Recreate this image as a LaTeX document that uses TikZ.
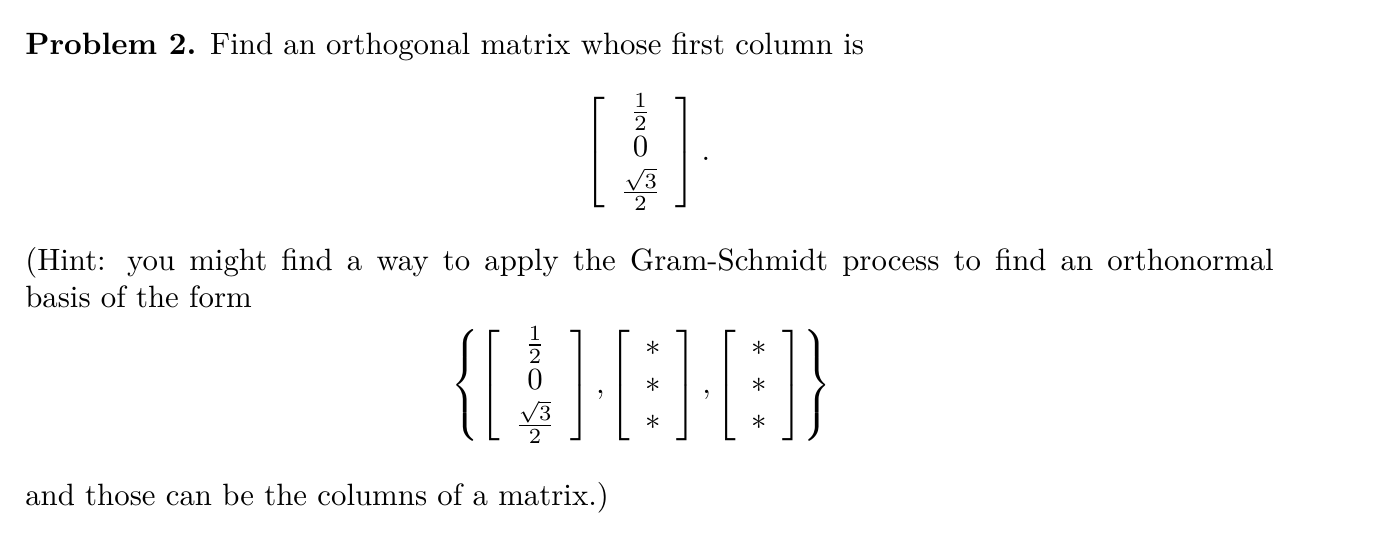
\documentclass[tikz,border=0pt]{standalone}
\usepackage{amsmath}
\begin{document}
\begin{tikzpicture}[x=1pt,y=1pt,txt/.style={inner sep=0pt,anchor=base west}]
\useasboundingbox (0,0) rectangle (447,-172.6);
\node[txt] (p) at (8,-17.8) {\textbf{Problem 2.} Find an orthogonal matrix whose first column is};
\node[inner sep=0pt] (m) at (210,-49.5) {$\left[\begin{array}{c}\frac12\\0\\\frac{\sqrt3}{2}\end{array}\right].$};
\node[txt,text width=405pt,align=justify] (h) at (8,-87.6) {(Hint: you might find a way to apply the Gram-Schmidt process to find an orthonormal\linebreak basis of the form};
\node[inner sep=0pt] (s) at (208,-125) {$\left\{\left[\begin{array}{c}\frac12\\0\\\frac{\sqrt3}{2}\end{array}\right],\left[\begin{array}{c}*\\ *\\ *\end{array}\right],\left[\begin{array}{c}*\\ *\\ *\end{array}\right]\right\}$};
\node[txt] (e) at (8,-164) {and those can be the columns of a matrix.)};
\end{tikzpicture}
\end{document}
